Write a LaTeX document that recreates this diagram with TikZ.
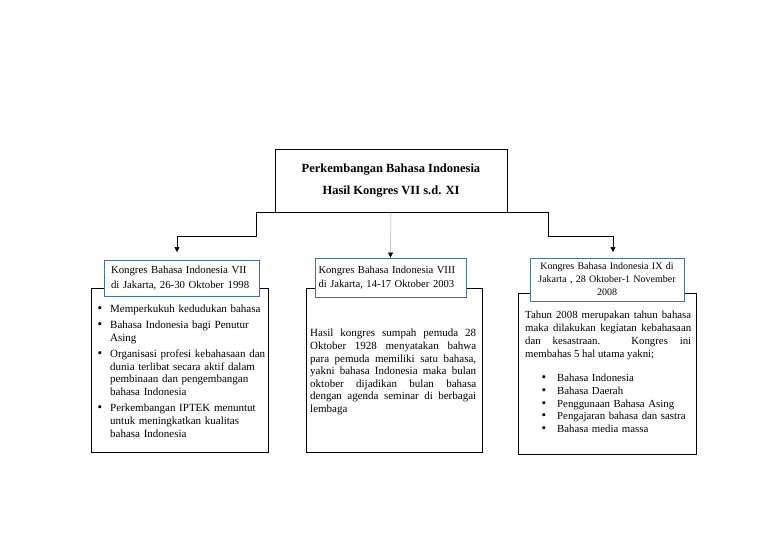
\documentclass[tikz,border=0pt]{standalone}
\usepackage{fontspec}
\setmainfont{Liberation Serif}
\usepackage{enumitem}
\usetikzlibrary{arrows.meta}
\definecolor{biru}{RGB}{65,113,156}
\hbadness=10000
\newcommand{\titik}{{\fontsize{13}{13}\selectfont\textbullet}}
\tikzset{
  judul/.style={draw, line width=0.8pt, minimum width=232pt, minimum height=63pt, align=center, font=\bfseries\fontsize{12.5}{22}\selectfont},
  kepala/.style={draw=biru, line width=0.9pt, fill=white, inner sep=0pt, font=\fontsize{10.8}{14.5}\selectfont},
  isi/.style={draw, line width=0.8pt},
  teks/.style={inner sep=0pt, anchor=north west, align=left, font=\fontsize{11}{12.8}\selectfont},
  garis/.style={line width=0.7pt},
  panah/.style={-{Triangle[length=5pt,width=5pt,color=black]}, line width=0.7pt},
}
\begin{document}
\begin{tikzpicture}[x=1pt,y=-1pt] % 1 satuan = 1 piksel
\useasboundingbox (0,0) rectangle (768,543);

\node[isi, minimum width=177pt, minimum height=164pt] (B7) at (179.5,370) {};
\node[isi, minimum width=176pt, minimum height=164pt] (B8) at (394,370) {};
\node[isi, minimum width=178pt, minimum height=161pt] (B9) at (607,373.5) {};

\node[judul] (T) at (391,180.5) {Perkembangan Bahasa Indonesia\\Hasil Kongres VII s.d. XI};
\node[kepala, minimum width=155pt, minimum height=36pt, text width=141pt, align=left] (K7) at (181.5,278) {Kongres Bahasa Indonesia VII\\di Jakarta, 26-30 Oktober 1998};
\node[kepala, minimum width=151pt, minimum height=39pt, text width=144pt, align=left, font=\fontsize{10.6}{14.5}\selectfont] (K8) at (390.5,277.5) {Kongres Bahasa Indonesia VIII\\di Jakarta, 14-17 Oktober 2003};
\node[kepala, minimum width=154pt, minimum height=43pt, text width=146pt, align=center, font=\fontsize{10}{13}\selectfont] (K9) at (607,279.5) {Kongres Bahasa Indonesia IX di\\Jakarta , 28 Oktober-1 November\\2008};

\node[teks, text width=172pt] (D7) at (95,299.8) {\begin{itemize}[nosep, leftmargin=15pt, labelsep=8pt, itemsep=3pt, label=\titik]
  \item Memperkukuh kedudukan bahasa
  \item Bahasa Indonesia bagi Penutur\\Asing
  \item Organisasi profesi kebahasaan dan\\dunia terlibat secara aktif dalam\\pembinaan dan pengembangan\\bahasa Indonesia
  \item Perkembangan IPTEK menuntut\\untuk meningkatkan kualitas\\bahasa Indonesia
\end{itemize}};
\node[teks, text width=166pt, align=justify, font=\fontsize{11}{12.6}\selectfont] (D8) at (310,329) {Hasil kongres sumpah pemuda 28 \linebreak Oktober 1928 menyatakan bahwa \linebreak para pemuda memiliki satu bahasa, \linebreak yakni bahasa Indonesia maka bulan \linebreak oktober dijadikan bulan bahasa \linebreak dengan agenda seminar di berbagai \linebreak lembaga};
\node[teks, text width=166pt, align=justify, font=\fontsize{10.8}{13}\selectfont] (D9) at (525,311) {Tahun 2008 merupakan tahun bahasa \linebreak maka dilakukan kegiatan kebahasaan \linebreak dan kesastraan. Kongres ini \linebreak membahas 5 hal utama yakni;};
\node[teks, text width=150pt, font=\fontsize{10.8}{12.6}\selectfont] (E9) at (541,369) {\begin{itemize}[nosep, leftmargin=16pt, labelsep=11pt, label=\titik]
  \item Bahasa Indonesia
  \item Bahasa Daerah
  \item Penggunaan Bahasa Asing
  \item Pengajaran bahasa dan sastra
  \item Bahasa media massa
\end{itemize}};

\coordinate (L1) at (256,212);
\coordinate (R1) at (548,212);
\coordinate (L2) at (177,252);
\coordinate (R2) at (613,252);

\draw[garis] (L1) -- (R1);
\draw[panah] (L1) -- ++(0,24) -| (L2);
\draw[panah] (R1) -- ++(0,24) -| (R2);
\draw[panah, gray!70, line width=0.5pt] (T.south) -- (K8.north);
\end{tikzpicture}
\end{document}
